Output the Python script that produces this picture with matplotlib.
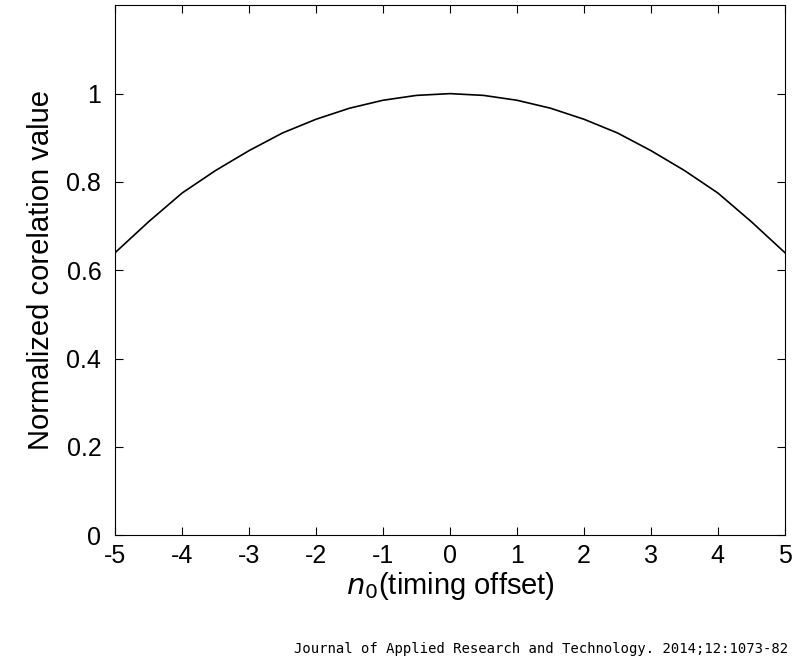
import matplotlib
matplotlib.use("Agg")
import matplotlib.pyplot as plt

x_vals = [-5, -4.5, -4, -3.5, -3, -2.5, -2, -1.5, -1, -0.5, 0, 0.5, 1, 1.5, 2, 2.5, 3, 3.5, 4, 4.5, 5]
y_vals = [0.64, 0.71, 0.775, 0.826, 0.871, 0.911, 0.942, 0.967, 0.985, 0.996, 1.0, 0.996, 0.985, 0.967, 0.942, 0.911, 0.871, 0.826, 0.775, 0.71, 0.64]
x_ticks = [-5, -4, -3, -2, -1, 0, 1, 2, 3, 4, 5]
x_ticklabels = ["-5", "-4", "-3", "-2", "-1", "0", "1", "2", "3", "4", "5"]
y_ticks = [0, 0.2, 0.4, 0.6, 0.8, 1]
y_ticklabels = ["0", "0.2", "0.4", "0.6", "0.8", "1"]

plt.rcParams['font.family'] = ['Liberation Sans', 'DejaVu Sans']
fig = plt.figure(figsize=(8, 6.64), dpi=100)
ax = fig.add_axes([0.144, 0.194, 0.837, 0.798])
ax.plot(x_vals, y_vals, color='black', lw=1.2)
ax.set_xlim(-5, 5)
ax.set_ylim(0, 1.2)
ax.set_xticks(x_ticks)
ax.set_xticklabels(x_ticklabels)
ax.set_yticks(y_ticks)
ax.set_yticklabels(y_ticklabels)
ax.tick_params(direction='in', top=True, right=True, labelsize=18, length=6)
ax.tick_params(axis='y', pad=10)
ax.tick_params(axis='x', pad=6)
ax.set_ylabel('Normalized corelation value', fontsize=21, labelpad=8)
ax.set_xlabel(r'$\mathit{n}_{0}$(timing offset)', fontsize=21, labelpad=2)
fig.text(0.985, 0.012, 'Journal of Applied Research and Technology. 2014;12:1073-82',
         ha='right', va='bottom', fontsize=10, family='DejaVu Sans Mono')
fig.savefig('out.png', dpi=100)
